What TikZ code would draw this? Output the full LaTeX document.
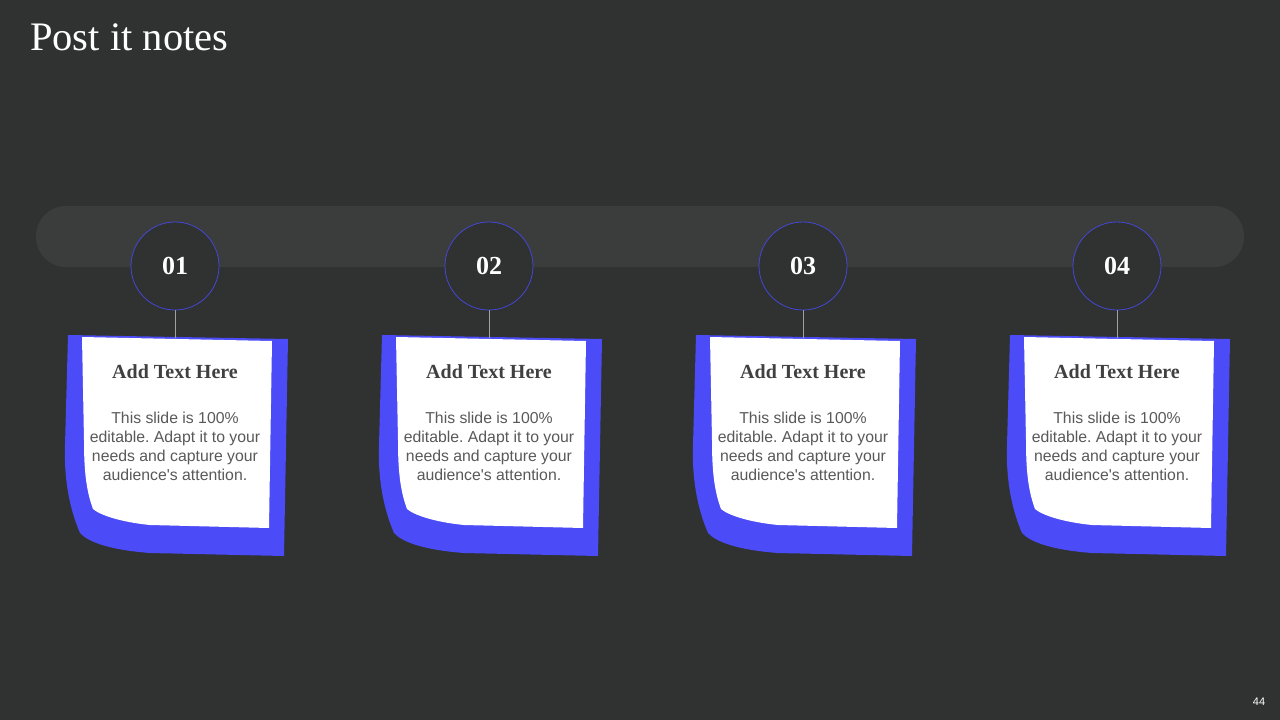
\documentclass[tikz,border=0pt]{standalone}
\usepackage{fontspec}
\setmainfont{Liberation Serif}
\newfontfamily\bodyfont{Liberation Sans}
\definecolor{bg}{HTML}{2F3230}
\definecolor{barcol}{HTML}{3A3D3B}
\definecolor{noteblue}{HTML}{4B4BF7}
\definecolor{ringblue}{HTML}{4646D8}
\definecolor{headcol}{HTML}{404040}
\definecolor{bodygray}{HTML}{595959}
\definecolor{stemcol}{HTML}{A0A0A0}
\frenchspacing
\begin{document}
\begin{tikzpicture}[x=1pt,y=-1pt,
  numcircle/.style={circle, draw=ringblue, fill=bg, minimum size=88pt, inner sep=0pt, line width=0.8pt, text=white, font=\bfseries\fontsize{26}{30}\selectfont},
  stemline/.style={draw=stemcol, line width=0.6pt},
  headtext/.style={text=headcol, font=\bfseries\fontsize{20}{24}\selectfont, inner sep=0pt},
  bodytext/.style={text=bodygray, font=\bodyfont\fontsize{15.8}{19}\selectfont, align=center, inner sep=0pt}]
\fill[bg] (0,0) rectangle (1280,720);
\useasboundingbox (0,0) rectangle (1280,720);
\node[anchor=base west, text=white, font=\fontsize{40.5}{44}\selectfont, inner sep=0pt] (title) at (30,50) {Post it notes};
\fill[barcol, rounded corners=30pt] (36,206) rectangle (1244,267);
\foreach \i/\n in {0/01,1/02,2/03,3/04}{
  \begin{scope}[xshift=\i*314pt]
    \fill[noteblue] (68,335) -- (288,339) -- (284,556) -- (150,553)
      .. controls (110,550) and (88,542) .. (80,533)
      .. controls (68,505) and (64,475) .. (65,445) -- cycle;
    \fill[white] (82,337) -- (272,341) -- (269,528) -- (150,525)
      .. controls (120,522) and (100,515) .. (93,509)
      .. controls (86,490) and (84,470) .. (84,440) -- cycle;
    \node[numcircle] (c\i) at (175,266) {\n};
    \coordinate (t\i) at (175,338);
    \draw[stemline] (c\i.south) -- (t\i);
    \node[headtext] (h\i) at (175,372) {Add Text Here};
    \node[bodytext] (b\i) at (175,446) {This slide is 100\%\\editable. Adapt it to your\\needs and capture your\\audience's attention.};
  \end{scope}
}
\node[text=white, font=\bodyfont\fontsize{11}{13}\selectfont, inner sep=0pt] (page) at (1259,702) {44};
\end{tikzpicture}
\end{document}
